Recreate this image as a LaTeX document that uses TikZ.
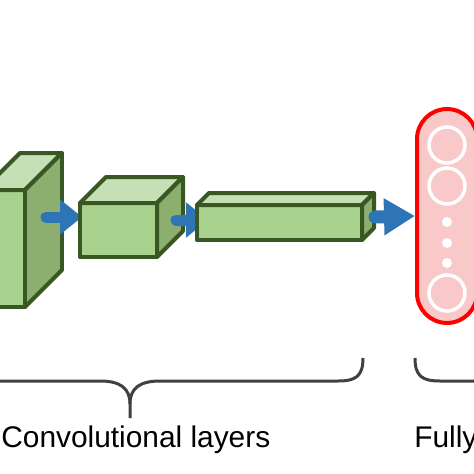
\documentclass[tikz,border=0pt]{standalone}
\usepackage{fontspec}
\setmainfont{Liberation Sans}
\usetikzlibrary{arrows.meta}

\definecolor{boxline}{HTML}{385723}
\definecolor{boxfront}{HTML}{A9D18E}
\definecolor{boxtop}{HTML}{C5E0B4}
\definecolor{boxside}{HTML}{8CAE6E}
\definecolor{flowblue}{HTML}{2E75B6}
\definecolor{fcfill}{HTML}{F9C8C8}
\definecolor{bracegray}{HTML}{404040}

% x, y of the front top-left corner, width, height, depth
\newcommand{\convbox}[5]{%
  \draw[box, fill=boxfront] (#1,#2) rectangle ({#1+#3},{#2+#4});
  \draw[box, fill=boxtop] (#1,#2) -- ({#1+#5},{#2-#5}) -- ({#1+#3+#5},{#2-#5}) -- ({#1+#3},#2) -- cycle;
  \draw[box, fill=boxside] ({#1+#3},#2) -- ({#1+#3+#5},{#2-#5}) -- ({#1+#3+#5},{#2+#4-#5}) -- ({#1+#3},{#2+#4}) -- cycle;
}

\begin{document}
\begin{tikzpicture}[x=0.02cm, y=-0.02cm,
    box/.style={draw=boxline, line width=0.08cm, line join=round},
    flow/.style={flowblue, line width=0.22cm, line cap=round, -{Triangle[length=0.44cm, width=0.68cm]}},
    bigflow/.style={flowblue, line width=0.26cm, line cap=round, -{Triangle[length=0.62cm, width=0.7cm]}},
    fc/.style={draw=red, fill=fcfill, line width=0.08cm, rounded corners=0.6cm, minimum width=1.2cm, minimum height=4.28cm, inner sep=0pt},
    unit/.style={draw=white, circle, line width=0.07cm, minimum size=0.72cm, inner sep=0pt},
    dot/.style={fill=white, circle, minimum size=0.2cm, inner sep=0pt},
    brace/.style={draw=bracegray, line width=0.06cm},
    label/.style={anchor=base west, inner sep=0pt, font=\fontsize{17}{20}\selectfont}]
        \useasboundingbox (0,0) rectangle (474,474);
        \clip (0,0) rectangle (474,474);

        \coordinate (a1) at (46,217);
        \coordinate (b1) at (82,217);
        \coordinate (a2) at (176,220);
        \coordinate (b2) at (208,220);
        \coordinate (a3) at (375,217);

        \convbox{-17}{190}{42}{117}{37}
        \draw[flow] (a1) -- (b1);
        \convbox{80}{203}{77}{54}{26}
        \draw[flow] (a2) -- (b2);
        \convbox{197}{205}{165}{35}{12}

        \node[fc] (fc) at (447,216) {};
        \draw[bigflow] (a3) -- (fc.west);

        \node[unit] (u1) at (447,145) {};
        \node[unit] (u2) at (447,186) {};
        \node[unit] (u3) at (447,293) {};
        \node[dot] (d1) at (447,222) {};
        \node[dot] (d2) at (447,243) {};
        \node[dot] (d3) at (447,263) {};

        \draw[brace] (363,358) .. controls (363,376) and (356,381) .. (338,381) -- (160,381) .. controls (140,381) and (130,388) .. (130,404) -- (130,418);
        \draw[brace] (-10,381) -- (100,381) .. controls (120,381) and (130,388) .. (130,404);
        \draw[brace] (415,358) .. controls (415,376) and (422,381) .. (440,381) -- (480,381);

        \node[label] (conv) at (1,447) {Convolutional layers};
        \node[label] (fully) at (414,447) {Fully};
\end{tikzpicture}
\end{document}
